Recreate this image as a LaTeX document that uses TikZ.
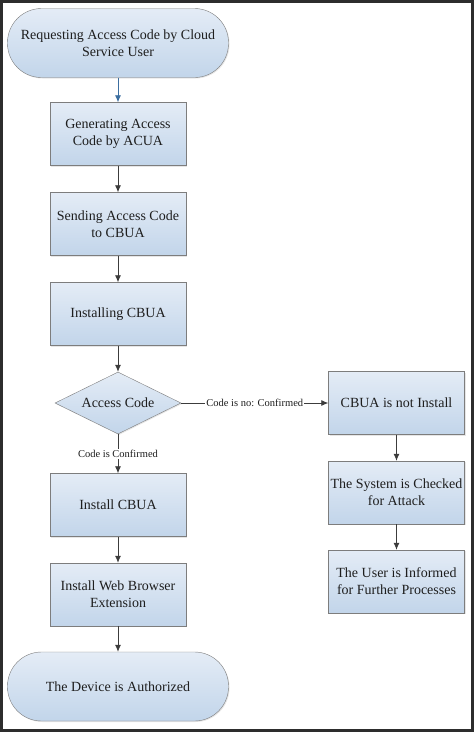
\documentclass[tikz,border=0pt]{standalone}
\usepackage{fontspec}
\setmainfont{Liberation Serif}
\usepackage{xcolor}
\usepackage{tikz}
\usetikzlibrary{shapes.geometric,arrows.meta,shadows}
\definecolor{boxtop}{RGB}{228,236,246}
\definecolor{boxbot}{RGB}{194,213,234}
\definecolor{boxline}{RGB}{125,125,125}
\definecolor{arrowgray}{RGB}{60,60,60}
\definecolor{arrowblue}{RGB}{60,110,160}
\definecolor{framegray}{RGB}{45,45,45}
\definecolor{textgray}{RGB}{30,30,30}

\begin{document}
\begin{tikzpicture}[x=1pt,y=-1pt,%
% common options for blocks:
block/.style = {rectangle, draw=boxline, top color=boxtop, bottom color=boxbot,
            align=center, minimum width=136pt, minimum height=63pt, inner sep=0,
            text=textgray, font=\fontsize{14}{17}\selectfont,
            drop shadow={opacity=0.2, shadow xshift=1pt, shadow yshift=-1pt}},
% common options for the start and end:
term/.style = {block, rounded corners=34pt, minimum width=221pt, minimum height=69pt},
% common options for the decision:
choice/.style = {block, diamond, aspect=2, minimum width=126pt, minimum height=62pt},
% common options for arrows and labels:
flow/.style = {draw=arrowgray, line width=0.8pt, -{Latex[length=7pt,width=6pt]}},
cond/.style = {fill=white, inner sep=1pt, text=textgray, font=\fontsize{10.5}{12}\selectfont}]
\useasboundingbox (0,0) rectangle (474,732);
\draw[framegray, line width=3pt] (1.5,1.5) rectangle (472.5,730.5);
\node[term] (A0) at (118,43) {Requesting Access Code by Cloud\\Service User};
\node[block] (A1) at (118,134) {Generating Access\\Code by ACUA};
\node[block] (A2) at (118,224) {Sending Access Code\\to CBUA};
\node[block] (A3) at (118,314) {Installing CBUA};
\node[choice] (A4) at (118,403) {Access Code};
\node[block] (A5) at (118,505) {Install CBUA};
\node[block] (A6) at (118,594.5) {Install Web Browser\\Extension};
\node[term] (A7) at (118,686.5) {The Device is Authorized};
\node[block] (B1) at (396.5,403) {CBUA is not Install};
\node[block] (B2) at (396.5,492.5) {The System is Checked\\for Attack};
\node[block] (B3) at (396.5,581.5) {The User is Informed\\for Further Processes};
\draw[flow, draw=arrowblue] (A0.south) to (A1.north);
\draw[flow] (A1.south) to (A2.north);
\draw[flow] (A2.south) to (A3.north);
\draw[flow] (A3.south) to (A4.north);
\draw[flow] (A4.south) to node[cond, pos=0.5] {Code is Confirmed} (A5.north);
\draw[flow] (A4.east) to node[cond, pos=0.5] {Code is no: Confirmed} (B1.west);
\draw[flow] (A5.south) to (A6.north);
\draw[flow] (A6.south) to (A7.north);
\draw[flow] (B1.south) to (B2.north);
\draw[flow] (B2.south) to (B3.north);
\end{tikzpicture}
\end{document}
